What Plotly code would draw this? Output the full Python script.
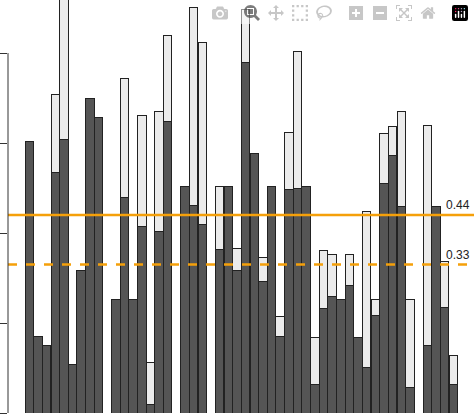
import plotly.graph_objects as go

idx = list(range(50))
dark = [0.603,0.169,0.151,0.535,0.607,0.107,0.316,0.700,0.656,0,
        0.253,0.479,0.253,0.414,0.020,0.403,0.647,0,0.503,0.462,
        0.418,0,0.364,0.503,0.316,0.780,0.577,0.293,0.503,0.170,
        0.496,0.499,0.503,0.064,0.233,0.258,0.253,0.284,0.168,0.101,
        0.216,0.510,0.573,0.460,0.057,0,0.150,0.458,0.234,0.064]
light = [0,0,0,0.173,0.35,0,0,0,0,0,
         0,0.264,0,0.248,0.092,0.268,0.191,0,0,0.440,
         0.405,0,0.139,0,0.050,0.117,0,0.053,0,0.044,
         0.128,0.305,0,0.103,0.129,0.095,0,0.068,0,0.346,
         0.037,0.112,0.063,0.211,0.196,0,0.490,0,0.102,0.063]
thresholds = [0.44, 0.33]
threshold_labels = ["0.44", "0.33"]
yticks = [0, 0.2, 0.4, 0.6, 0.8]

fig = go.Figure()
fig.add_bar(x=idx, y=dark, marker=dict(color="#555555", line=dict(color="#222222", width=1)))
fig.add_bar(x=idx, y=light, marker=dict(color="#ebebeb", line=dict(color="#222222", width=1)))

for t, lab, dash in zip(thresholds, threshold_labels, ["solid", "dash"]):
    fig.add_shape(type="line", xref="paper", x0=0, x1=1, yref="y", y0=t, y1=t,
                  line=dict(color="#f5a00a", width=2.5, dash=dash))
    fig.add_annotation(xref="paper", x=1, y=t, yref="y", text=lab, showarrow=False,
                       xanchor="right", yanchor="bottom", yshift=1, xshift=-2,
                       font=dict(family="Liberation Sans", size=12, color="#222"))
fig.add_shape(type="line", xref="paper", x0=0, x1=0, yref="y", y0=0, y1=0.8,
              line=dict(color="#333", width=1))

fig.update_layout(
    width=474, height=417, barmode="stack", bargap=0.02, showlegend=False,
    margin=dict(l=8, r=0, t=0, b=4, autoexpand=False), plot_bgcolor="white", paper_bgcolor="white",
    xaxis=dict(range=[-2.46, 51.4], visible=False),
    yaxis=dict(range=[0, 0.918], showgrid=False, zeroline=False, tickvals=yticks, automargin=False,
               ticks="outside", ticklen=8, tickcolor="#333", showticklabels=False),
)
fig.write_html("out.html", post_script="document.body.style.margin='0';")
